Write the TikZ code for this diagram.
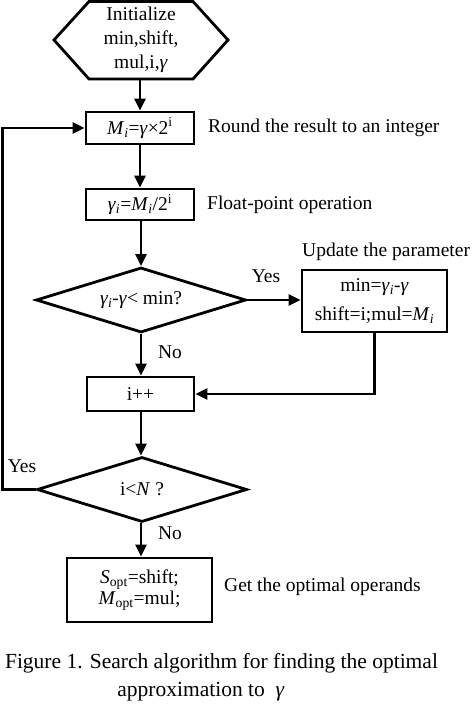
\documentclass[tikz,border=0pt]{standalone}
\usepackage{fontspec}
\setmainfont{Liberation Serif}
\usetikzlibrary{shapes.geometric,arrows.meta}
\begin{document}
\begin{tikzpicture}[x=1pt,y=-1pt,
  every node/.style={font=\fontsize{19.5}{23}\selectfont},
  box/.style={draw, line width=2.8pt, minimum width=108pt, minimum height=32pt, inner sep=0pt, align=center},
  dia/.style={draw, diamond, aspect=3.2, line width=2.8pt, minimum width=210pt, minimum height=65pt, inner sep=0pt, align=center},
  arr/.style={-{Triangle[length=12pt,width=11pt]}, line width=2.8pt},
  lbl/.style={inner sep=0pt, anchor=west}]
\useasboundingbox (0,0) rectangle (474,704);
% start hexagon
\draw[line width=2.8pt] (89,1.5) -- (193,1.5) -- (228,40) -- (193,79) -- (89,79) -- (54,40) -- cycle;
\node[inner sep=0pt, minimum height=79pt, align=center, font=\fontsize{19.5}{24}\selectfont] (init) at (141,40) {Initialize\\min,shift,\\mul,i,\textit{γ}};
\node[box] (m) at (140,128) {\textit{M}\textsubscript{\textit{i}}=\textit{γ}×2\textsuperscript{i}};
\node[box, minimum height=31pt] (g) at (140,204.5) {\textit{γ}\textsubscript{\textit{i}}=\textit{M}\textsubscript{\textit{i}}/2\textsuperscript{i}};
\node[dia] (d1) at (141,300) {\textit{γ}\textsubscript{\textit{i}}-\textit{γ}< min?};
\node[box, minimum width=145pt, minimum height=62pt] (up) at (374.5,301) {min=\textit{γ}\textsubscript{\textit{i}}-\textit{γ}\\[6pt]shift=i;mul=\textit{M}\textsubscript{\textit{i}}};
\node[box, minimum width=107pt, minimum height=34pt] (inc) at (140.5,394) {i++};
\node[dia] (d2) at (142,489.5) {i<\textit{N} ?};
\node[box, minimum width=145pt, minimum height=64pt, font=\fontsize{19.5}{21}\selectfont] (opt) at (139.5,590) {\textit{S}\textsubscript{opt}=shift;\\\textit{M}\textsubscript{opt}=mul;};
% side labels
\node[lbl] (t1) at (208,128) {Round the result to an integer};
\node[lbl] (t2) at (207,205) {Float-point operation};
\node[lbl] (t3) at (302,252) {Update the parameter};
\node[lbl] (t4) at (224,587) {Get the optimal operands};
\node[inner sep=0pt] (y1) at (266,276) {Yes};
\node[inner sep=0pt] (n1) at (170,352) {No};
\node[inner sep=0pt] (y2) at (22,466) {Yes};
\node[inner sep=0pt] (n2) at (170,533) {No};
% caption
\node[inner sep=0pt, font=\fontsize{21.5}{25}\selectfont] (c1) at (221.5,663) {Figure 1. Search algorithm for finding the optimal};
\node[inner sep=0pt, font=\fontsize{21.5}{25}\selectfont] (c2) at (201,692) {approximation to~ \textit{γ}};
% connectors
\coordinate (lx) at (2.5,0);
\draw[arr] (init.south -| m.north) -- (m.north);
\draw[arr] (m.south) -- (g.north);
\draw[arr] (g.south -| d1.north) -- (d1.north);
\draw[arr] (d1.east) -- (d1.east -| up.west);
\draw[arr] (d1.south) -- (d1.south |- inc.north);
\draw[arr] (up.south) |- (inc.east);
\draw[arr] (inc.south -| d1.south) -- (d1.south |- d2.north);
\draw[arr] (d2.west) -- (d2.west -| lx) |- (m.west);
\draw[arr] (d2.south -| d1.south) -- (d1.south |- opt.north);
\end{tikzpicture}
\end{document}
